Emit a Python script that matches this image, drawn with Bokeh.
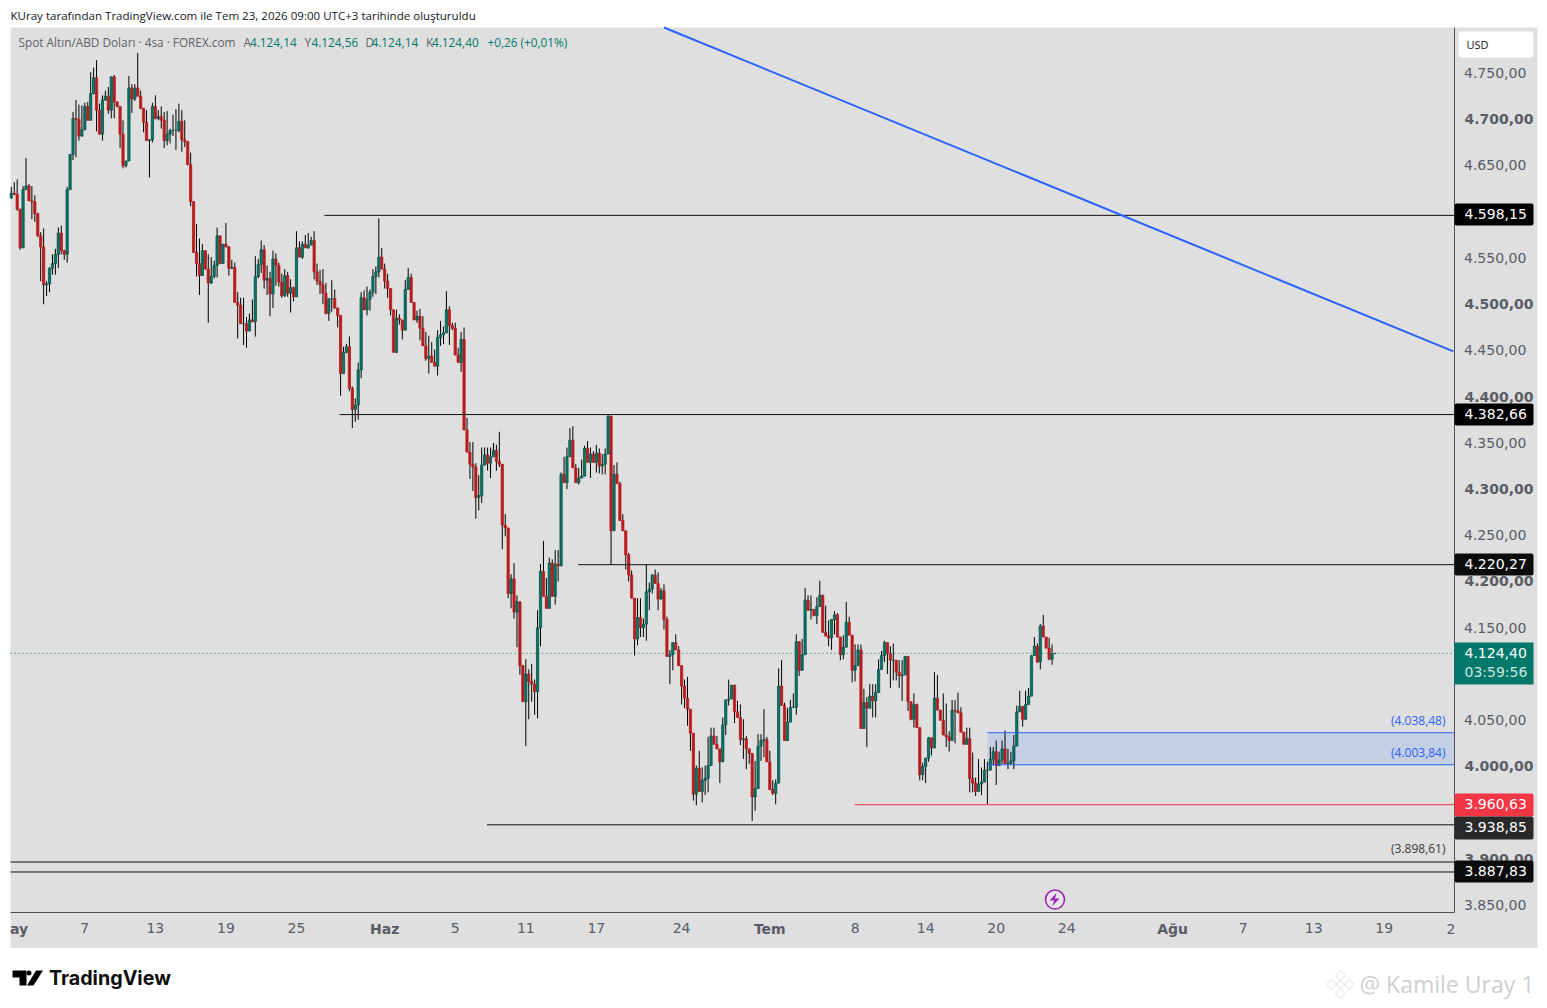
from bokeh.plotting import figure
from bokeh.models import Range1d, FixedTicker, BoxAnnotation, Label, PolyAnnotation, LinearAxis
from bokeh.embed import file_html
from bokeh.resources import INLINE

opens = [4617,4622,4621,4605,4563,4626,4630,4614,4613,4600,
4576,4564,4523,4524,4541,4546,4556,4579,4560,4556,
4626,4664,4703,4702,4684,4691,4716,4701,4730,4747,
4712,4686,4723,4727,4712,4748,4721,4716,4686,4652,
4657,4736,4724,4736,4727,4714,4699,4679,4680,4716,
4703,4705,4701,4679,4686,4690,4690,4690,4700,4680,
4678,4653,4613,4558,4546,4533,4560,4540,4525,4532,
4544,4576,4546,4567,4564,4541,4542,4504,4501,4481,
4481,4473,4485,4483,4532,4545,4561,4528,4530,4513,
4551,4544,4526,4511,4533,4514,4520,4510,4563,4553,
4567,4563,4566,4571,4537,4527,4523,4514,4492,4508,
4508,4498,4490,4427,4450,4456,4411,4388,4393,4431,
4509,4496,4507,4515,4532,4537,4553,4540,4527,4519,
4496,4450,4487,4485,4474,4518,4531,4504,4485,4489,
4476,4457,4443,4446,4439,4435,4466,4469,4471,4496,
4479,4476,4447,4439,4464,4366,4342,4329,4326,4293,
4295,4328,4339,4330,4337,4344,4332,4329,4263,4260,
4189,4205,4169,4180,4111,4072,4102,4094,4091,4083,
4152,4213,4186,4173,4222,4186,4221,4219,4318,4309,
4337,4355,4325,4309,4314,4316,4346,4331,4340,4331,
4341,4327,4329,4340,4381,4257,4318,4308,4268,4257,
4231,4209,4184,4140,4163,4152,4156,4191,4194,4209,
4200,4183,4192,4161,4121,4123,4136,4128,4111,4089,
4076,4064,4038,3972,4000,3975,3987,3989,4003,4035,
4026,4021,4007,4047,4074,4075,4090,4061,4055,4031,
4032,4021,4016,3969,3978,4024,4030,4031,4007,3977,
3973,3984,4089,4068,4030,4050,4066,4066,4137,4106,
4123,4182,4171,4172,4165,4175,4187,4147,4143,4141,
4161,4166,4142,4123,4131,4158,4144,4106,4111,4128,
4043,4071,4065,4078,4073,4082,4107,4122,4136,4124,
4117,4117,4104,4100,4101,4121,4072,4053,4069,4044,
3993,4002,4011,4033,4022,4076,4063,4052,4036,4034,
4030,4063,4062,4060,4039,4026,4032,3989,3984,3975,
3983,3985,3998,3998,4010,4018,4003,4009,4021,4005,
4005,4008,4024,4061,4067,4053,4069,4078,4122,4132,
4115,4154,4142,4130,4118,4124.14]
closes = [4622,4621,4605,4563,4626,4630,4614,4613,4600,4576,
4564,4523,4524,4541,4546,4556,4579,4560,4556,4626,
4664,4703,4702,4684,4691,4716,4701,4730,4747,4712,
4686,4723,4727,4712,4748,4721,4716,4686,4652,4657,
4736,4724,4736,4727,4714,4699,4679,4680,4716,4703,
4705,4701,4679,4686,4690,4690,4690,4700,4680,4678,
4653,4613,4558,4546,4533,4560,4540,4525,4532,4544,
4576,4546,4567,4564,4541,4542,4504,4501,4481,4481,
4473,4485,4483,4532,4545,4561,4528,4530,4513,4551,
4544,4526,4511,4533,4514,4520,4510,4563,4553,4567,
4563,4566,4571,4537,4527,4523,4514,4492,4508,4508,
4498,4490,4427,4450,4456,4411,4388,4393,4431,4509,
4496,4507,4515,4532,4537,4553,4540,4527,4519,4496,
4450,4487,4485,4474,4518,4531,4504,4485,4489,4476,
4457,4443,4446,4439,4435,4466,4469,4471,4496,4479,
4476,4447,4439,4464,4366,4342,4329,4326,4293,4295,
4328,4339,4330,4337,4344,4332,4329,4263,4260,4189,
4205,4169,4180,4111,4072,4102,4094,4091,4083,4152,
4213,4186,4173,4222,4186,4221,4219,4318,4309,4337,
4355,4325,4309,4314,4316,4346,4331,4340,4331,4341,
4327,4329,4340,4381,4257,4318,4308,4268,4257,4231,
4209,4184,4140,4163,4152,4156,4191,4194,4209,4200,
4183,4192,4161,4121,4123,4136,4128,4111,4089,4076,
4064,4038,3972,4000,3975,3987,3989,4003,4035,4026,
4021,4007,4047,4074,4075,4090,4061,4055,4031,4032,
4021,4016,3969,3978,4024,4030,4031,4007,3977,3973,
3984,4089,4068,4030,4050,4066,4066,4137,4106,4123,
4182,4171,4172,4165,4175,4187,4147,4143,4141,4161,
4166,4142,4123,4131,4158,4144,4106,4111,4128,4043,
4071,4065,4078,4073,4082,4107,4122,4136,4124,4117,
4117,4104,4100,4101,4121,4072,4053,4069,4044,3993,
4002,4011,4033,4022,4076,4063,4052,4036,4034,4030,
4063,4062,4060,4039,4026,4032,3989,3984,3975,3983,
3985,3998,3998,4010,4018,4003,4009,4021,4005,4005,
4008,4024,4061,4067,4053,4069,4078,4122,4132,4115,
4154,4142,4130,4118,4124.14,4124.40]
highs = [4629,4634,4637,4605,4630,4660,4632,4630,4620,4601,
4580,4584,4527,4542,4556,4562,4585,4587,4561,4629,
4664,4710,4723,4718,4717,4720,4721,4753,4758,4766,
4719,4728,4733,4737,4748,4750,4721,4716,4701,4657,
4749,4740,4740,4774,4733,4714,4712,4680,4720,4728,
4712,4716,4710,4711,4692,4707,4713,4719,4712,4701,
4678,4666,4613,4589,4573,4567,4560,4556,4553,4549,
4585,4576,4567,4590,4565,4550,4547,4515,4509,4509,
4488,4492,4507,4554,4551,4571,4566,4544,4537,4560,
4557,4547,4535,4540,4537,4529,4521,4581,4570,4570,
4577,4579,4575,4581,4546,4539,4540,4525,4508,4528,
4518,4498,4490,4456,4459,4467,4413,4400,4439,4515,
4517,4521,4518,4540,4543,4595,4563,4546,4535,4519,
4496,4496,4491,4485,4528,4541,4535,4504,4495,4497,
4489,4472,4468,4461,4453,4474,4484,4478,4516,4500,
4482,4482,4455,4472,4477,4379,4353,4353,4330,4317,
4347,4347,4347,4347,4352,4350,4364,4329,4275,4260,
4210,4222,4187,4181,4112,4118,4107,4113,4096,4171,
4221,4246,4206,4228,4226,4236,4236,4320,4337,4347,
4368,4370,4329,4325,4334,4349,4354,4347,4343,4350,
4346,4340,4346,4382,4381,4328,4331,4310,4275,4257,
4233,4214,4184,4184,4184,4162,4221,4201,4210,4215,
4212,4195,4199,4164,4128,4136,4145,4132,4111,4096,
4099,4064,4038,4003,4019,4001,4003,4034,4044,4044,
4035,4021,4055,4074,4096,4090,4090,4073,4069,4053,
4035,4021,4016,4008,4037,4037,4064,4034,4019,3987,
3988,4108,4117,4071,4065,4074,4081,4145,4137,4140,
4195,4187,4187,4172,4185,4203,4188,4176,4160,4161,
4170,4168,4142,4144,4180,4164,4144,4134,4134,4134,
4086,4077,4091,4091,4091,4118,4127,4138,4136,4132,
4135,4117,4117,4117,4121,4121,4072,4081,4070,4044,
4006,4011,4034,4033,4104,4101,4063,4081,4070,4040,
4074,4074,4082,4066,4039,4044,4044,4017,3990,4010,
4001,4010,4007,4023,4023,4030,4018,4030,4041,4021,
4018,4036,4068,4084,4067,4084,4087,4122,4142,4135,
4156,4166,4142,4141,4134,4124.56]
lows = [4616,4620,4603,4561,4563,4626,4614,4594,4591,4575,
4527,4502,4511,4515,4534,4534,4541,4556,4550,4547,
4626,4658,4661,4679,4683,4690,4701,4701,4729,4689,
4686,4679,4722,4708,4703,4703,4715,4671,4649,4650,
4657,4709,4722,4727,4713,4688,4679,4639,4677,4702,
4701,4692,4671,4674,4676,4684,4669,4688,4667,4672,
4653,4608,4558,4532,4512,4533,4540,4482,4524,4530,
4531,4546,4546,4564,4533,4540,4504,4465,4481,4458,
4455,4473,4483,4467,4530,4536,4519,4512,4489,4498,
4522,4521,4509,4510,4510,4493,4505,4510,4553,4551,
4563,4562,4566,4529,4523,4513,4502,4491,4484,4494,
4497,4477,4403,4427,4449,4408,4368,4375,4377,4422,
4496,4490,4495,4510,4513,4531,4540,4519,4509,4490,
4450,4449,4480,4464,4474,4518,4504,4485,4482,4463,
4457,4441,4427,4439,4435,4425,4457,4459,4471,4458,
4474,4447,4439,4429,4366,4342,4313,4300,4270,4279,
4287,4328,4322,4314,4337,4322,4326,4237,4251,4184,
4173,4162,4131,4101,4072,4024,4053,4072,4058,4054,
4132,4186,4173,4173,4186,4177,4202,4219,4309,4302,
4337,4325,4309,4307,4314,4316,4331,4314,4331,4320,
4319,4318,4318,4340,4220,4257,4308,4268,4257,4215,
4202,4184,4122,4133,4142,4142,4138,4171,4189,4200,
4171,4183,4150,4121,4091,4106,4128,4111,4069,4065,
4046,4019,3965,3960,3975,3963,3971,3974,4003,4026,
4021,3984,4007,4036,4068,4075,4049,4055,4025,4010,
3999,4005,3943,3954,3978,4008,4012,4007,3977,3971,
3961,3984,4068,4030,4030,4050,4065,4058,4100,4106,
4123,4171,4161,4165,4156,4175,4147,4143,4132,4128,
4145,4142,4117,4118,4131,4144,4093,4094,4111,4043,
4043,4023,4065,4055,4055,4082,4107,4115,4102,4087,
4095,4095,4087,4073,4101,4062,4052,4044,4044,3987,
3987,3984,4007,4014,4022,4063,4052,4036,4023,4018,
4030,4027,4060,4039,4026,4026,3974,3974,3970,3975,
3971,3985,3961,3998,4003,3982,4003,4005,4005,3999,
4005,3999,4024,4061,4045,4053,4069,4078,4122,4114,
4107,4142,4130,4117,4112,4124.14]

axis_price_ticks = [4750,4650,4550,4450,4350,4250,4150,4050,3850]
axis_price_labels = ["4.750,00","4.650,00","4.550,00","4.450,00","4.350,00","4.250,00","4.150,00","4.050,00","3.850,00"]
bold_price_ticks = [4700,4500,4400,4300,4200,4000,3900]
bold_price_labels = ["4.700,00","4.500,00","4.400,00","4.300,00","4.200,00","4.000,00","3.900,00"]
time_ticks = [25,49,73,97,151,175,199,228,287,311,335,359,419,443,467]
time_labels = ["7","13","19","25","5","11","17","24","8","14","20","24","7","13","19"]
month_ticks = [127,258,395]
month_labels = ["Haz","Tem","Ağu"]

level_prices = [4598.15,4382.66,4220.27,3938.85,3898.61,3887.83]
level_starts = [106.5,111.7,192.8,161.8,-0.27,-0.27]
support_price, support_start = 3960.63, 286.9
zone_top, zone_bottom, zone_start = 4038.48, 4003.84, 332.0
last_price = 4124.40
trend_x = [222.0,490.5]
trend_y = [4801.4,4451.0]
event_x, event_y = [355], [3858]

W, H = 1540, 1002
PITCH, X0 = 2.94, 10.8
K, Y4750, YT = 0.9244, 74.5, 72.5
panel_left, panel_right = (10-X0)/PITCH, (1453.5-X0)/PITCH
panel_top, panel_bottom = 4750+(Y4750-27)/K, 4750-(912-Y4750)/K
FONT = "DejaVu Sans"
SMALL = "Open Sans"
AXC = "#5a5c66"

p = figure(width=W, height=H, min_border=0, output_backend="svg", toolbar_location=None,
           x_range=Range1d(-X0/PITCH,(W-X0)/PITCH),
           y_range=Range1d(4750-(H-Y4750)/K,4750+Y4750/K),
           x_axis_location=None, y_axis_location=None,
           background_fill_color="white", border_fill_color="white", outline_line_color=None)
p.grid.visible = False
p.extra_y_ranges = {"ticks": Range1d(4750-(H-YT)/K,4750+YT/K)}

def cbox(l,r,t,b,color,level="annotation",**kw):
    bx = BoxAnnotation(left=l,right=r,top=t,bottom=b,left_units="canvas",right_units="canvas",
        top_units="canvas",bottom_units="canvas",fill_color=color,fill_alpha=1,line_color=kw.pop("line_color",None),level=level,**kw)
    p.add_layout(bx); return bx
cbox(10,1537,27,947.5,"#DFDFDF","underlay")

yax = LinearAxis(fixed_location=panel_right, y_range_name="ticks", bounds=(4750-(912-YT)/K,4750+(YT-27)/K),
                 ticker=FixedTicker(ticks=axis_price_ticks), major_label_overrides=dict(zip(axis_price_ticks,axis_price_labels)),
                 major_label_standoff=10)
xax = LinearAxis(fixed_location=panel_bottom, bounds=(panel_left,panel_right),
                 ticker=FixedTicker(ticks=time_ticks), major_label_overrides=dict(zip(time_ticks,time_labels)),
                 major_label_standoff=10)
for ax in [yax,xax]:
    ax.axis_line_color = "#4e505c"; ax.axis_line_width = 1
    ax.major_tick_line_color = None; ax.minor_tick_line_color = None
    ax.major_tick_out = 0; ax.major_tick_in = 0; ax.minor_tick_out = 0; ax.minor_tick_in = 0
    ax.major_label_text_font = FONT; ax.major_label_text_font_size = "14px"
    ax.major_label_text_color = AXC
p.add_layout(yax,"right")
p.add_layout(xax,"below")

n = len(closes)
xs = list(range(n))
p.quad(left=[zone_start],right=[panel_right],top=[zone_top],bottom=[zone_bottom],fill_color="#C5CFE4",line_color=None)
p.segment(xs,lows,xs,highs,line_color="black",line_width=1)
up = [i for i in xs if closes[i]>=opens[i]]
dn = [i for i in xs if closes[i]<opens[i]]
p.vbar(x=dn,width=0.76,bottom=[closes[i] for i in dn],top=[opens[i] for i in dn],fill_color="#B71C1C",line_color="#B71C1C",line_width=0.8)
p.vbar(x=up,width=0.76,bottom=[opens[i] for i in up],top=[closes[i] for i in up],fill_color="#00796B",line_color="#0B4F46",line_width=0.8)
p.segment(level_starts,level_prices,[panel_right]*len(level_prices),level_prices,line_color="#111111",line_width=1)
p.segment([support_start],[support_price],[panel_right],[support_price],line_color="#F23645",line_width=1)
p.segment([zone_start]*2,[zone_top,zone_bottom],[panel_right]*2,[zone_top,zone_bottom],line_color="#2962FF",line_width=1)
p.segment([panel_left],[last_price],[panel_right],[last_price],line_color="#00796B",line_width=1,line_dash="1 3")
p.line(trend_x,trend_y,line_color="#2962FF",line_width=2)

def lab(x,y,t,size=14,color=AXC,bold=False,align="left",font=FONT,ydata=False,**kw):
    if ydata:
        kw["y_range_name"] = "ticks"
    l = Label(x=x,y=y,x_units="canvas",y_units="data" if ydata else "canvas",text=t,text_font=font,
              text_font_size=f"{size}px",text_color=color,text_font_style="bold" if bold else "normal",
              text_align=align,text_baseline="middle",**kw)
    p.add_layout(l); return l

for t,s in zip(bold_price_ticks,bold_price_labels):
    lab(1464,t,s,bold=True,ydata=True)
for t,s in zip(month_ticks,month_labels):
    lab(X0+PITCH*t,928.5,s,bold=True,align="center")
lab(9.5,928.5,"ay",bold=True)
lab(1446,928.5,"2")

cbox(1458,1533,31,57,"white",border_radius=4)
lab(1466,43.5,"USD",size=11,color="#131722",font=SMALL)
tags = [("4.598,15","#000000",203,225),("4.382,66","#000000",403,425),("4.220,27","#0c0c0c",553,575),
        ("3.960,63","#F23645",793,816),("3.938,85","#2A2A2A",816,839),("3.887,83","#0c0c0c",860,882)]
for txt,col,t,b in tags:
    cbox(1454,1533,t,b,col,border_radius=2)
    lab(1464,(t+b)/2-1,txt,color="white")
cbox(1454,1533,642,684,"#00796B")
lab(1464,652,"4.124,40",color="white")
lab(1464,671.5,"03:59:56",color="#CFE3DF")

lab(1445,719.5,"(4.038,48)",size=12,color="#2962FF",align="right",font=SMALL)
lab(1445,751.5,"(4.003,84)",size=12,color="#2962FF",align="right",font=SMALL)
lab(1445,848,"(3.898,61)",size=12,color="#3a3a3a",align="right",font=SMALL)

lab(10,14.5,"KUray tarafından TradingView.com ile Tem 23, 2026 09:00 UTC+3 tarihinde oluşturuldu",size=11.55,color="#131722",font=SMALL)
GR="#5f6168"; GN="#00796B"
lab(18,41.5,"Spot Altın/ABD Doları · 4sa · FOREX.com",size=11.8,color=GR,font=SMALL)
for x,t in [(243,"A"),(304,"Y"),(365,"D"),(425.5,"K")]:
    lab(x,41.5,t,size=11.8,color=GR,font=SMALL)
for x,t in [(249.5,"4.124,14"),(311,"4.124,56"),(371,"4.124,14"),(431.5,"4.124,40"),(487,"+0,26 (+0,01%)")]:
    lab(x,41.5,t,size=11.8,color=GN,font=SMALL)

p.scatter(event_x,event_y,size=19,marker="circle",fill_color="#E9E4EC",line_color="#9C27B0",line_width=1.6)
def poly(xs_,ys_,fill,alpha=1.0,line=None,lw=1):
    a = PolyAnnotation(xs=list(xs_),ys=list(ys_),xs_units="canvas",ys_units="canvas",
        fill_color=fill,fill_alpha=alpha,line_color=line,line_width=lw)
    p.add_layout(a); return a
poly([1056,1049,1053.5,1052,1059,1054.5],[892.5,900,900,905.5,898,898],"#9C27B0")

poly([12,26,26,19,19,12],[970,970,985,985,977,977],"#000000")
poly([35.5,42.5,33,26.5],[970,970,985,985],"#000000")
cbox(26,31,970,975,"#000000",border_radius=3)
lab(48.5,977.5,"TradingView",size=19.7,color="#0d0d0d",bold=True,font="Inter")

WM="#CFCFCF"
def dia(cx,cy,r):
    poly([cx,cx+r,cx,cx-r],[cy-r,cy,cy+r,cy],"#ffffff",alpha=0,line=WM,lw=1.8)
dia(1340,975,5); dia(1340,993,5); dia(1331,984,5); dia(1349,984,5); dia(1340,984,4)
lab(1359,983.5,"@ Kamile Uray 1",size=23,color=WM,font=SMALL)

open("out.html","w").write(file_html(p,INLINE))
